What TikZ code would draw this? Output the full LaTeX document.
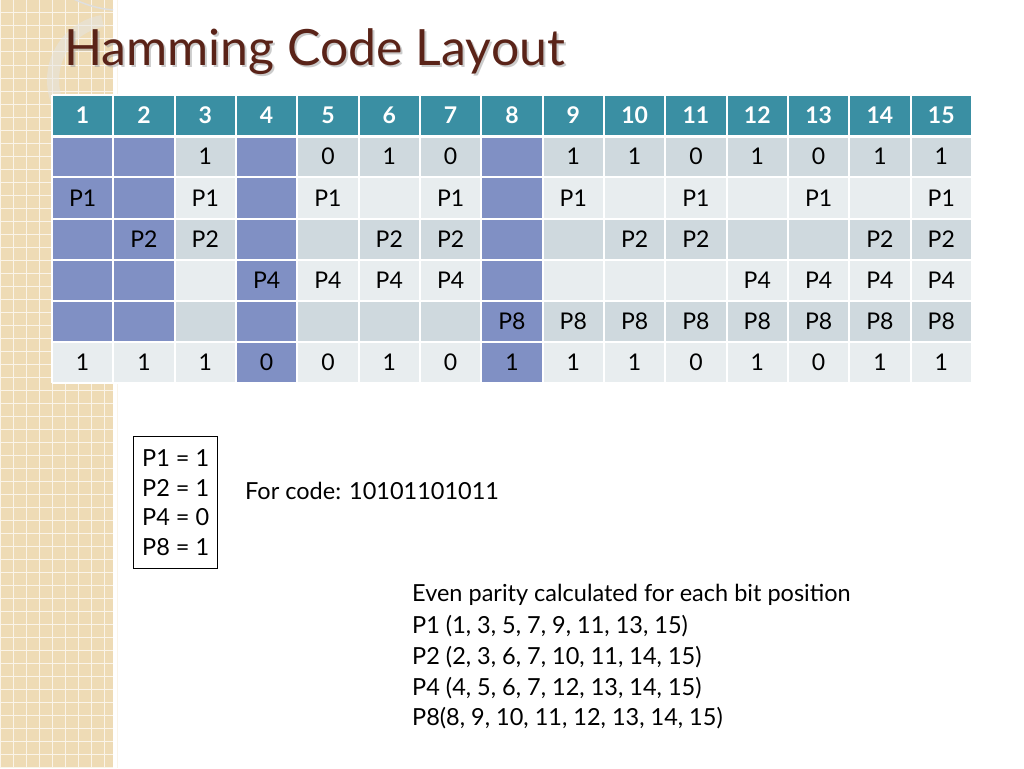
\documentclass[tikz,border=0pt]{standalone}
\usepackage{fontspec}
\setmainfont{Lato}
\begin{document}
\begin{tikzpicture}[x=1pt,y=-1pt,
  cell/.style={minimum width=60.3pt,minimum height=40pt,inner sep=0pt,anchor=center,font=\fontsize{23}{24}\selectfont},
  hdr/.style={cell,fill=hdrc,text=white,font=\bfseries\fontsize{23}{24}\selectfont},
  txt/.style={anchor=base west,inner sep=0pt,font=\fontsize{23.5}{26}\selectfont}]
\definecolor{hdrc}{HTML}{3A8FA3}
\definecolor{dk}{HTML}{CFD9DE}
\definecolor{lt}{HTML}{E8EDEF}
\definecolor{par}{HTML}{8090C4}
\definecolor{beige}{HTML}{EEDBB5}
\definecolor{titlec}{HTML}{5A2318}
\useasboundingbox (0,0) rectangle (1024,768);
\fill[white] (0,0) rectangle (1024,768);
\fill[beige] (0,0) rectangle (113,768);
\foreach \i in {0,...,9}{\draw[white!70!beige,line width=1pt] (\i*13,0) -- (\i*13,768);}
\foreach \i in {0,...,60}{\draw[white!70!beige,line width=1pt] (0,\i*13) -- (113,\i*13);}
\draw[white!75!gray,line width=1.5pt] (113,10) arc[start angle=95,end angle=215,radius=110];
\draw[white!80!gray,line width=12pt,opacity=0.5] (113,140) arc[start angle=90,end angle=260,radius=60];
\node[anchor=base west,inner sep=0pt,text=black!40,opacity=0.5,font=\fontsize{50}{54}\selectfont] at (66,67) {Hamming Code Layout};
\node (title)[anchor=base west,inner sep=0pt,text=titlec,font=\fontsize{50}{54}\selectfont] at (64,65) {Hamming Code Layout};
\foreach \c in {1,...,15}{\node[hdr] (h\c) at (52+\c*61.33-30.67,115.5) {\c};}
\def\rowA{{"","","1","","0","1","0","","1","1","0","1","0","1","1"}}
\def\rowB{{"P1","","P1","","P1","","P1","","P1","","P1","","P1","","P1"}}
\def\rowC{{"","P2","P2","","","P2","P2","","","P2","P2","","","P2","P2"}}
\def\rowD{{"","","","P4","P4","P4","P4","","","","","P4","P4","P4","P4"}}
\def\rowE{{"","","","","","","","P8","P8","P8","P8","P8","P8","P8","P8"}}
\def\rowF{{"1","1","1","0","0","1","0","1","1","1","0","1","0","1","1"}}
\foreach \r/\arr/\col in {1/\rowA/dk,2/\rowB/lt,3/\rowC/dk,4/\rowD/lt,5/\rowE/dk,6/\rowF/lt}{
  \foreach \c in {1,...,15}{
    \pgfmathsetmacro\t{\arr[\c-1]}
    \pgfmathtruncatemacro\isp{(\c==1 || \c==2 || \c==4 || \c==8) ? 1 : 0}
    \pgfmathtruncatemacro\isbot{(\r==6 && (\c==1 || \c==2)) ? 1 : 0}
    \ifnum\isp=1 \ifnum\isbot=0 \def\fc{par}\else\def\fc{\col}\fi\else\def\fc{\col}\fi
    \node[cell,fill=\fc] (c\r-\c) at (52+\c*61.33-30.67,115.5+\r*41.2) {\t};
  }
}
\foreach \c in {0,...,15}{\draw[white,line width=2pt] (52+\c*61.33,95) -- (52+\c*61.33,383);}
\foreach \r in {0,...,7}{\draw[white,line width=2pt] (52,95+\r*41.2) -- (972,95+\r*41.2);}
\draw[white,line width=3pt] (52,136.2) -- (972,136.2);
\node (box)[draw=black,line width=0.6pt,minimum width=84pt,minimum height=132pt,anchor=north west,inner sep=0pt] at (133,436) {};
\foreach \t/\y [count=\k] in {P1 = 1/466,P2 = 1/496,P4 = 0/525,P8 = 1/555}{\node (p\k)[txt] at (142,\y) {\t};}
\node (code)[txt] at (245,499) {For code: 10101101011};
\foreach \t/\y [count=\k] in {Even parity calculated for each bit position/601,{P1 (1, 3, 5, 7, 9, 11, 13, 15)}/633,{P2 (2, 3, 6, 7, 10, 11, 14, 15)}/664,{P4 (4, 5, 6, 7, 12, 13, 14, 15)}/695,{P8(8, 9, 10, 11, 12, 13, 14, 15)}/725}{\node (e\k)[txt] at (412,\y) {\t};}
\end{tikzpicture}
\end{document}
